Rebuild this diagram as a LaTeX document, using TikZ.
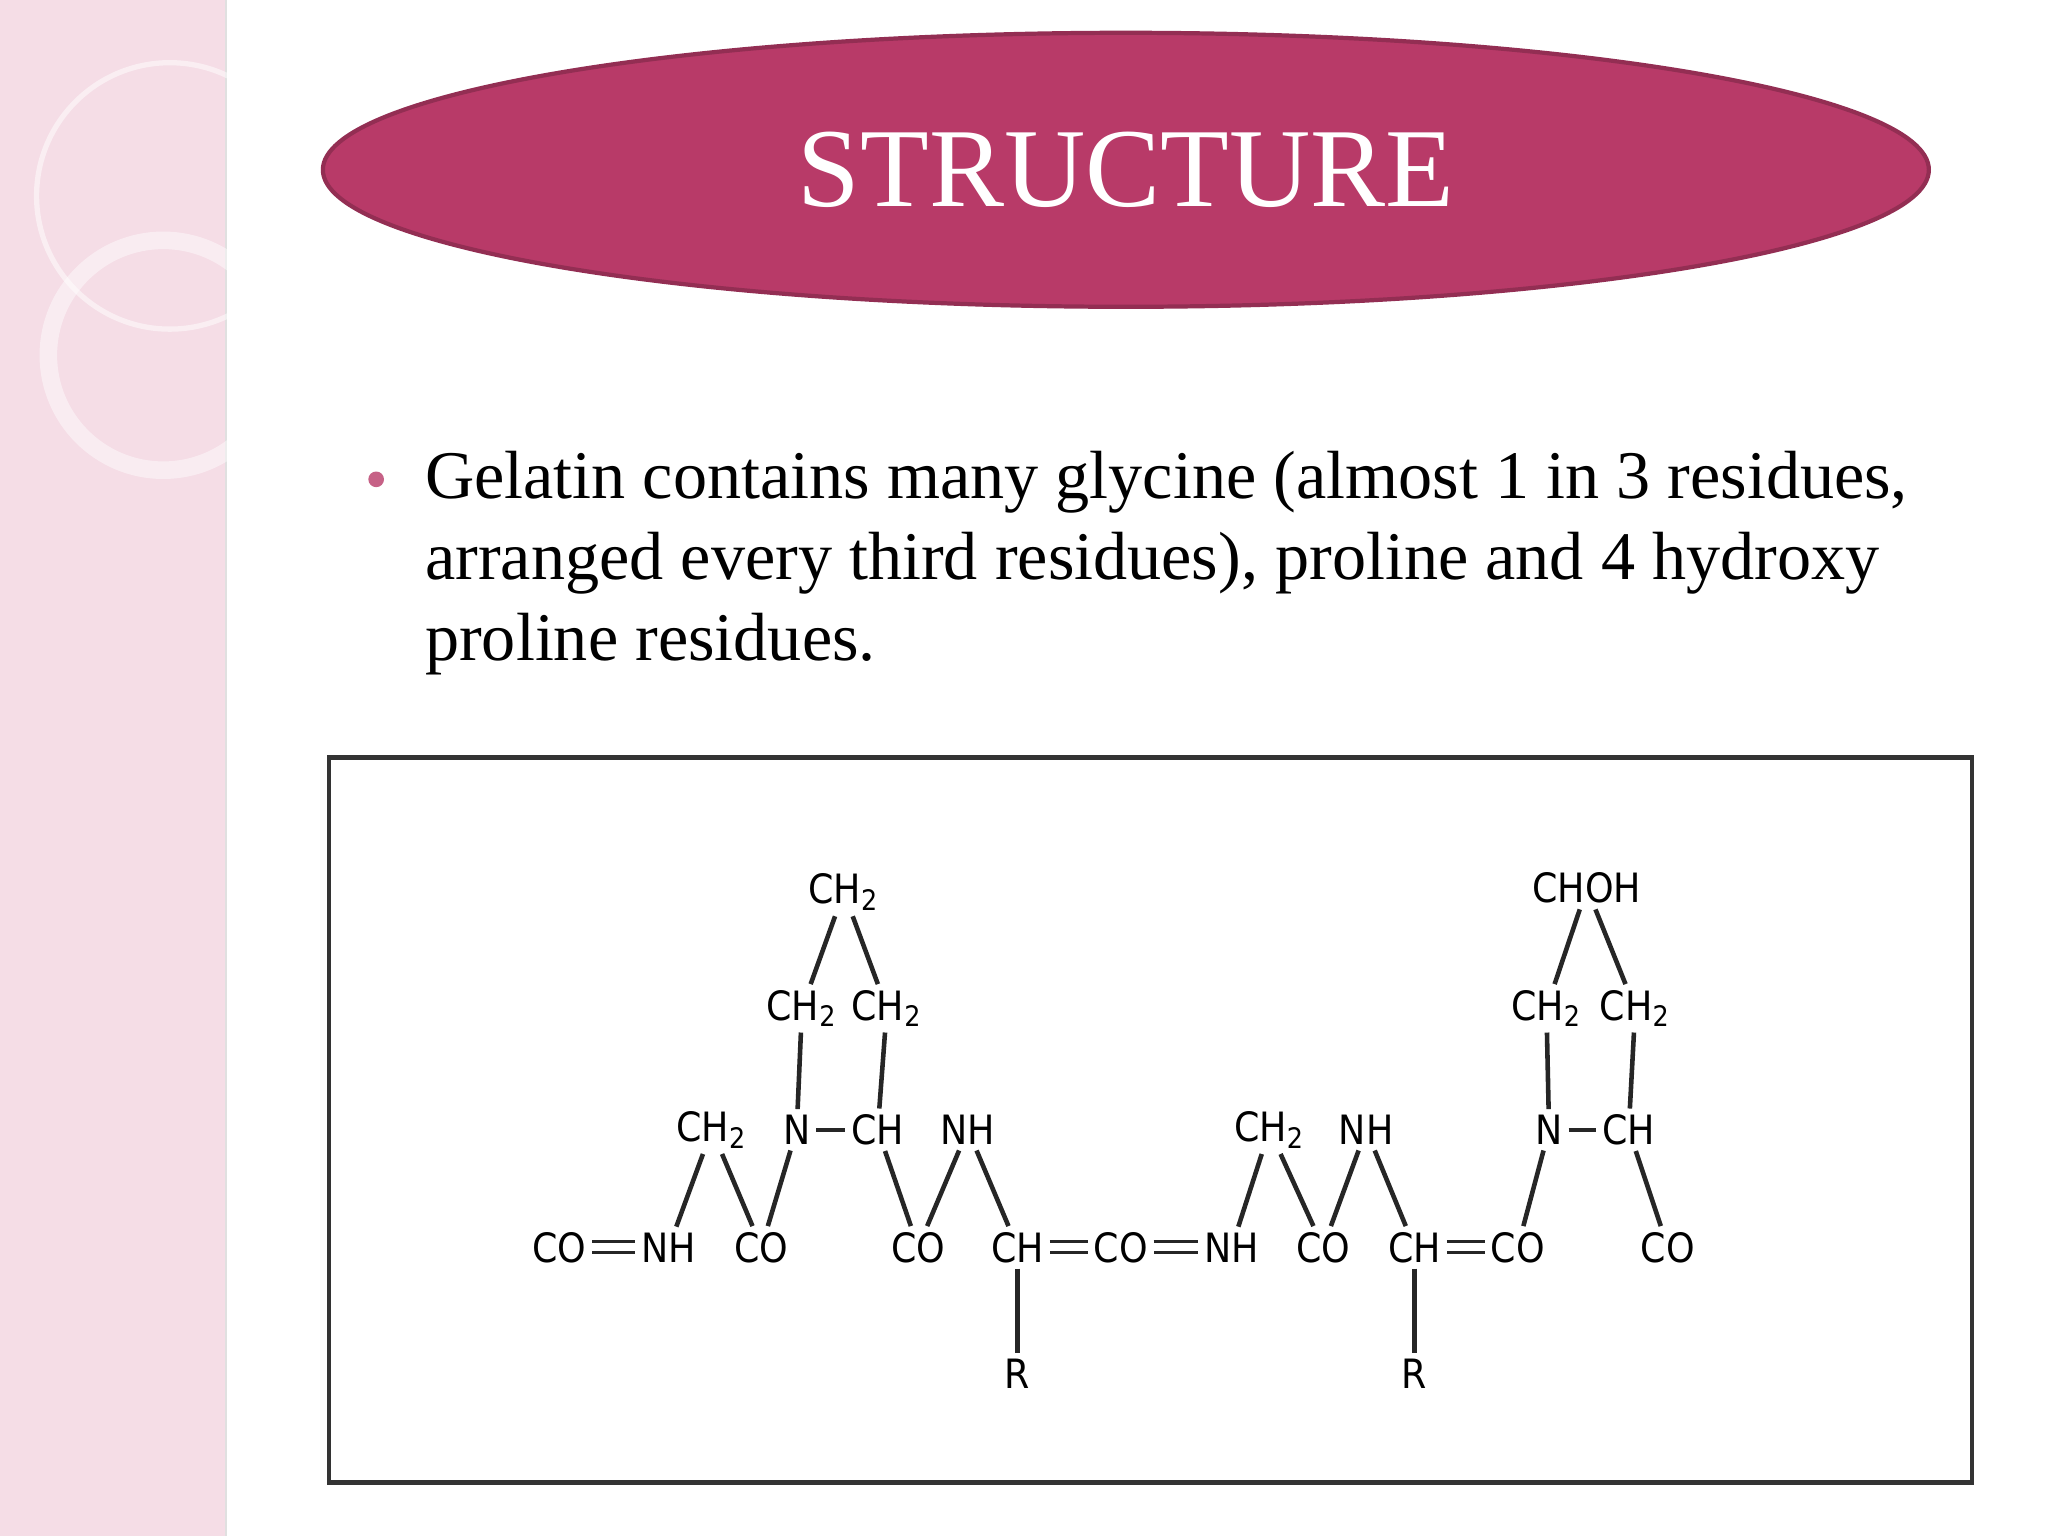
\documentclass[tikz,border=0pt]{standalone}
\usepackage{fontspec}
\setmainfont{Liberation Serif}
\newfontfamily\chemfont{DejaVu Sans Condensed}
\usetikzlibrary{positioning,shapes.geometric}
\definecolor{titlered}{HTML}{B83A68}
\definecolor{bandpink}{HTML}{F5DDE6}
\tikzset{
atom/.style={font=\chemfont\fontsize{11.5}{12}\selectfont, inner sep=1.5pt},
bond/.style={line width=1.3pt, black!85},
dbond/.style={double, double distance=2.2pt, line width=0.9pt, black!85}
}
\begin{document}
\begin{tikzpicture}[x=0.01306cm, y=-0.01306cm]
\useasboundingbox (0,0) rectangle (1568,1176);
% background
\fill[white] (0,0) rectangle (1568,1176);
\fill[bandpink] (0,0) rectangle (173,1176);
\draw[black!12] (173,0) -- (173,1176);
\draw[white, line width=1.5pt, opacity=.5] (130,150) circle (102);
\draw[white, line width=5pt, opacity=.45] (125,272) circle (88);
% title
\node (title) [ellipse, draw=titlered!80!black, line width=1.2pt, fill=titlered, minimum width=16.06cm, minimum height=2.74cm, inner sep=0pt, text=white, font=\fontsize{32}{32}\selectfont] at (862,130) {STRUCTURE};
% bullet text
\fill[titlered!80] (288,367) circle (6);
\node (bullet) [anchor=north west, align=left, inner sep=0pt, font=\fontsize{19.4}{23}\selectfont] at (325,345) {Gelatin contains many glycine (almost 1 in 3 residues,\\arranged every third residues), proline and 4 hydroxy\\proline residues.};
% structure box
\draw[black!80, line width=1.2pt] (252,580) rectangle (1510,1135);
\begin{scope}[every node/.style={atom}]
% bottom row
\node (co1) at (428,955) {CO};
\node (nh1) at (512,955) {NH};
\node (co2) at (583,955) {CO};
\node (co3) at (703,955) {CO};
\node (ch1) at (779,955) {CH};
\node (co4) at (858,955) {CO};
\node (nh2) at (943,955) {NH};
\node (co5) at (1013,955) {CO};
\node (ch2) at (1083,955) {CH};
\node (co6) at (1162,955) {CO};
\node (co7) at (1277,955) {CO};
% middle row
\node (ma) at (545,865) {CH\textsubscript{2}};
\node (n1) at (610,865) {N};
\node (cha) at (672,865) {CH};
\node (nh3) at (741,865) {NH};
\node (mb) at (972,865) {CH\textsubscript{2}};
\node (nh4) at (1046,865) {NH};
\node (n2) at (1186,865) {N};
\node (chb) at (1247,865) {CH};
% ring rows
\node (ra1) at (614,772) {CH\textsubscript{2}};
\node (ra2) at (679,772) {CH\textsubscript{2}};
\node (rb1) at (1184,772) {CH\textsubscript{2}};
\node (rb2) at (1252,772) {CH\textsubscript{2}};
\node (topa) at (646,683) {CH\textsubscript{2}};
\node (topb) at (1215,680) {CHOH};
% side chains
\node (r1) at (779,1052) {R};
\node (r2) at (1083,1052) {R};
\end{scope}
\draw[dbond] (co1) -- (nh1);
\draw[dbond] (ch1) -- (co4);
\draw[dbond] (co4) -- (nh2);
\draw[dbond] (ch2) -- (co6);
\draw[bond] (n1) -- (cha);
\draw[bond] (n2) -- (chb);
\foreach \a/\b in {nh1/ma, ma/co2, co2/n1, cha/co3, co3/nh3, nh3/ch1,
  nh2/mb, mb/co5, co5/nh4, nh4/ch2, co6/n2, chb/co7,
  n1/ra1, cha/ra2, ra1/topa, ra2/topa, n2/rb1, chb/rb2, rb1/topb, rb2/topb,
  ch1/r1, ch2/r2}
  \draw[bond] (\a) -- (\b);
\end{tikzpicture}
\end{document}
